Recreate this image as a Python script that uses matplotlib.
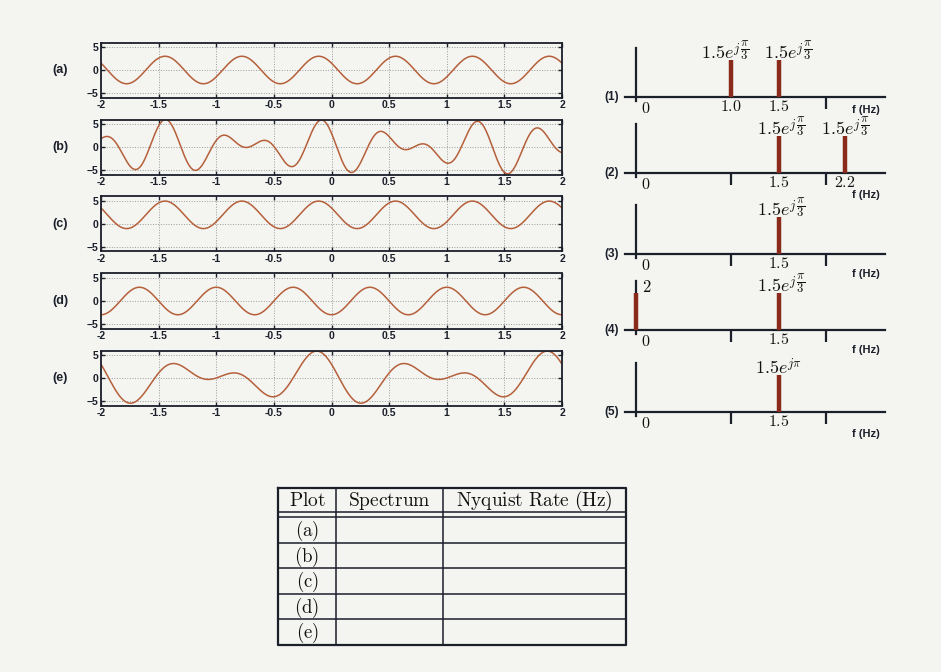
import matplotlib
matplotlib.use('Agg')
import numpy as np
import matplotlib.pyplot as plt

plt.rcParams['mathtext.fontset'] = 'cm'
plt.rcParams['font.family'] = ['Liberation Sans', 'DejaVu Sans']

sig_names = ['(a)', '(b)', '(c)', '(d)', '(e)']
sig_dc = [0, 0, 2, 0, 0]
sig_freqs = [[1.5], [1.5, 2.2], [1.5], [1.5], [1.0, 1.5]]
sig_amps = [[3], [3, 3], [3], [3], [3, 3]]
sig_phases = [[np.pi / 3], [np.pi / 3, np.pi / 3], [np.pi / 3], [np.pi], [np.pi / 3, np.pi / 3]]
t_start, t_stop = -2, 2
x_ticks = [-2, -1.5, -1, -0.5, 0, 0.5, 1, 1.5, 2]
x_ticklabels = ['-2', '-1.5', '-1', '-0.5', '0', '0.5', '1', '1.5', '2']
y_ticks = [-5, 0, 5]

# candidate spectra
pi3 = r'$1.5e^{j\,\dfrac{\pi}{3}}$'
spec_names = ['(1)', '(2)', '(3)', '(4)', '(5)']
spec_freqs = [[1.0, 1.5], [1.5, 2.2], [1.5], [0, 1.5], [1.5]]
spec_heights = [[1, 1], [1, 1], [1], [1, 1], [1]]
spec_labels = [[pi3, pi3], [pi3, pi3], [pi3], [r'$2$', pi3], [r'$1.5e^{j\pi}$']]
spec_ticks = [1, 2]

# answer table
table_header = ['Plot', 'Spectrum', 'Nyquist Rate (Hz)']
table_rows = ['(a)', '(b)', '(c)', '(d)', '(e)']

W, H = 941, 672
fig = plt.figure(figsize=(W / 100, H / 100), dpi=100, facecolor='#f4f4f1')

# overlay in pixel units for free text and the table
ov = fig.add_axes([0, 0, 1, 1], zorder=-1)
ov.set_xlim(0, W)
ov.set_ylim(H, 0)
ov.axis('off')


def box(left, top, right, bottom):
    return [left / W, 1 - bottom / H, (right - left) / W, (bottom - top) / H]


curve_color = '#b5603a'
stem_color = '#8a2a1a'
ink = '#1b1f2a'

# left column: time signals
centers = [70, 147, 224, 301, 378]
t = np.linspace(t_start, t_stop, 1201)
for i, name in enumerate(sig_names):
    c = centers[i]
    ax = fig.add_axes(box(101, c - 27.5, 562, c + 27.5))
    x = np.full_like(t, sig_dc[i], dtype=float)
    for f, a, p in zip(sig_freqs[i], sig_amps[i], sig_phases[i]):
        x = x + a * np.cos(2 * np.pi * f * t + p)
    ax.plot(t, x, color=curve_color, lw=1.1)
    ax.set_xlim(t_start, t_stop)
    ax.set_ylim(-6, 6)
    ax.set_xticks(x_ticks)
    ax.set_xticklabels(x_ticklabels)
    ax.set_yticks(y_ticks)
    ax.grid(True, ls=':', color='#9a9a9a', lw=0.7)
    ax.set_facecolor('none')
    ax.tick_params(direction='in', top=True, right=True, length=3, width=1,
                   labelsize=7.5, pad=2, colors=ink)
    for lab in ax.get_xticklabels() + ax.get_yticklabels():
        lab.set_fontweight('bold')
    for s in ax.spines.values():
        s.set_linewidth(1.3)
        s.set_color(ink)
    ov.text(60, c, name, fontsize=9, fontweight='bold', ha='center', va='center', color=ink)

# right column: spectra
baselines = [97, 173, 254, 330, 412]
px0, px_per_hz = 636, 95
# hand placement in the original: label nudges (px) and f (Hz) drop below the axis
label_dx = [[-6, 10], [3, 0], [3], [0, 3], [0]]
fhz_dy = [13, 22, 20, 20, 22]
for i, name in enumerate(spec_names):
    yb = baselines[i]
    left_px, right_px = 595, 900
    ax = fig.add_axes(box(left_px, yb - 60, right_px, yb + 30))
    ax.set_xlim((left_px - px0) / px_per_hz, (right_px - px0) / px_per_hz)
    ax.set_ylim(-30 / 37, 60 / 37)
    ax.set_facecolor('none')
    ax.spines['top'].set_visible(False)
    ax.spines['right'].set_visible(False)
    ax.spines['bottom'].set_position(('data', 0))
    ax.spines['left'].set_position(('data', 0))
    ax.spines['bottom'].set_bounds((625 - px0) / px_per_hz, (885 - px0) / px_per_hz)
    ax.spines['left'].set_bounds(-0.1, 1.32)
    for s in ('bottom', 'left'):
        ax.spines[s].set_linewidth(1.6)
        ax.spines[s].set_color(ink)
    ax.set_xticks([tk for tk in spec_ticks if tk not in spec_freqs[i]])
    ax.set_xticklabels([])
    ax.set_yticks([])
    ax.tick_params(axis='x', direction='out', length=8.5, width=1.6, colors=ink)
    ax.vlines(spec_freqs[i], 0, spec_heights[i], color=stem_color, lw=3.2, zorder=3)
    for f, h, lab, dx in zip(spec_freqs[i], spec_heights[i], spec_labels[i], label_dx[i]):
        if f == 0:
            ax.text(f + 0.06, h + 0.15, lab, fontsize=12, ha='left', va='center', color='#111')
        else:
            ax.text(f + dx / px_per_hz, h + 0.01, lab, fontsize=13, ha='center', va='baseline',
                    color='#111')
            ax.text(f, -0.06, r'$%.1f$' % f, fontsize=11.5, ha='center', va='top', color='#111')
    ax.text(0.1, -0.12, r'$0$', fontsize=11.5, ha='center', va='top', color='#111')
    ov.text(612, yb, name, fontsize=8.5, fontweight='bold', ha='center', va='center', color=ink)
    ov.text(880, yb + fhz_dy[i], 'f (Hz)', fontsize=8, fontweight='bold', ha='right', va='center',
            color=ink)

# answer table
col_edges = [278, 336, 443, 626]
row_edges = [488, 512, 517, 543, 568, 594, 619, 645]
lw_thin = 1.1
ov.plot([col_edges[0], col_edges[-1], col_edges[-1], col_edges[0], col_edges[0]],
        [row_edges[0], row_edges[0], row_edges[-1], row_edges[-1], row_edges[0]],
        color=ink, lw=1.6)
for yv in row_edges[1:-1]:
    ov.plot([col_edges[0], col_edges[-1]], [yv, yv], color=ink, lw=lw_thin)
for xv in col_edges[1:-1]:
    ov.plot([xv, xv], [row_edges[0], row_edges[-1]], color=ink, lw=lw_thin)

for j, head in enumerate(table_header):
    xc = (col_edges[j] + col_edges[j + 1]) / 2
    ov.text(xc, (row_edges[0] + row_edges[1]) / 2 + 1, r'$\mathrm{%s}$' % head.replace(' ', r'\ '),
            fontsize=14, ha='center', va='center', color='#111')
for k, lab in enumerate(table_rows):
    yc = (row_edges[k + 2] + row_edges[k + 3]) / 2
    ov.text((col_edges[0] + col_edges[1]) / 2, yc + 1, r'$\mathrm{%s}$' % lab,
            fontsize=13.5, ha='center', va='center', color='#111')

fig.savefig('out.png', dpi=100, facecolor=fig.get_facecolor())
